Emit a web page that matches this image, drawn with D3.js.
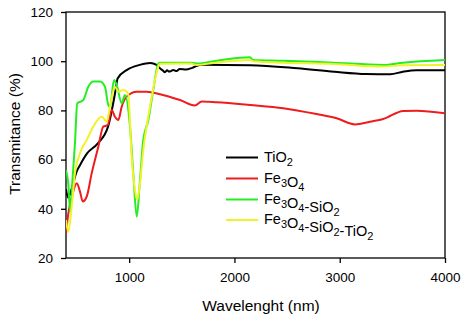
<!DOCTYPE html>
<html><head><meta charset="utf-8">
<script src="https://d3js.org/d3.v7.min.js"></script>
<style>body{margin:0;background:#fff;} text{font-family:"Liberation Sans",Arial,sans-serif;fill:#000;}</style>
</head><body><svg id="c" width="474" height="332"></svg>
<script>
const xTicks = [1000, 2000, 3000, 4000];
const yTicks = [20, 40, 60, 80, 100, 120];
const seriesNames = ["TiO2", "Fe3O4", "Fe3O4-SiO2", "Fe3O4-SiO2-TiO2"];
const seriesColors = ["#000000", "#ee1c1c", "#22ee22", "#f2f22a"];
const tio2 = [[400,48],[420,44.5],[460,49],[500,55],[530,57.5],[600,62.5],[700,66.5],[800,73.5],[870,88],[890,93],[980,96.5],[1100,98.5],[1200,99.3],[1260,98.5],[1290,97.2],[1320,96.2],[1340,95.5],[1360,96.3],[1380,95.8],[1420,96.4],[1450,96.0],[1480,96.8],[1540,96.6],[1600,97.3],[1680,98.6],[2150,98.4],[2600,97.1],[2950,95.7],[3250,94.8],[3480,94.7],[3600,95.7],[3730,96.3],[4000,96.3]];
const fe3o4 = [[400,30],[422,38],[457,45],[502,50.4],[533,47],[559,43],[597,45],[644,54.4],[707,65.2],[754,73.4],[796,74],[834,80.2],[865,77.4],[897,76.1],[929,81.5],[977,85.6],[1072,87.6],[1166,87.6],[1293,86.6],[1483,84.2],[1625,82],[1689,83.6],[1831,83.3],[2148,82.2],[2464,80.9],[2781,78.5],[2971,76.8],[3145,74.3],[3287,75.4],[3414,76.5],[3604,79.8],[3731,79.9],[4000,78.8]];
const fe3o4sio2 = [[400,55.8],[422,50],[440,38.8],[462,52],[485,66.6],[507,82.9],[540,83.6],[564,84.2],[612,89.6],[659,91.7],[723,91.7],[770,89.6],[802,82.2],[818,81.5],[856,92.4],[882,90.3],[929,82.9],[960,86.3],[1008,73.4],[1039,54.4],[1072,36.8],[1103,51.7],[1134,68],[1182,76.1],[1229,88.3],[1277,99.1],[1293,99.4],[1578,99.4],[1641,99.1],[1831,100.2],[2148,101.6],[2176,100.5],[2464,100.2],[2936,99.4],[3414,98.5],[3601,99.4],[4000,100.5]];
const fe3o4sio2tio2 = [[400,35.4],[422,30.7],[454,40.9],[485,54.4],[533,62.6],[597,68],[659,73.4],[739,77.4],[770,76.1],[787,75.4],[818,81.5],[865,89.6],[897,87.6],[944,88.3],[977,87.6],[992,86.3],[1024,61.2],[1055,47.6],[1077,43.6],[1103,50.4],[1134,63.9],[1198,81.5],[1245,92.4],[1277,97.8],[1293,99],[1578,99.1],[1641,98.5],[1831,99.4],[2148,100.5],[2176,100],[2464,99.4],[2936,98.9],[3414,97.8],[3601,98.4],[4000,98.5]];
const allSeries = [tio2, fe3o4, fe3o4sio2, fe3o4sio2tio2];

const svg = d3.select("#c");
const L = 66, R = 445, T = 12, B = 258;
const x = d3.scaleLinear().domain([400, 4000]).range([L, R]);
const y = d3.scaleLinear().domain([20, 120]).range([B, T]);

svg.append("rect").attr("x", L).attr("y", T).attr("width", R - L).attr("height", B - T)
  .attr("fill", "none").attr("stroke", "#000").attr("stroke-width", 1.3);

const xa = svg.append("g").attr("transform", `translate(0,${B})`)
  .call(d3.axisBottom(x).tickValues(xTicks).tickSize(5).tickPadding(9).tickFormat(d3.format("d")));
const ya = svg.append("g").attr("transform", `translate(${L},0)`)
  .call(d3.axisLeft(y).tickValues(yTicks).tickSize(5).tickPadding(8));
[xa, ya].forEach(a => {
  a.select(".domain").remove();
  a.selectAll("line").attr("stroke", "#000").attr("stroke-width", 1.3);
  a.selectAll("text").style("font-size", "13.5px").style("font-family", '"Liberation Sans",Arial,sans-serif');
});

const line = d3.line().x(d => x(d[0])).y(d => y(d[1])).curve(d3.curveMonotoneX);
svg.append("clipPath").attr("id", "pc").append("rect")
  .attr("x", L).attr("y", T).attr("width", R - L).attr("height", B - T);
allSeries.forEach((s, i) => {
  svg.append("path").datum(s).attr("d", line)
    .attr("fill", "none").attr("stroke", seriesColors[i]).attr("stroke-width", 2)
    .attr("stroke-linejoin", "round").attr("clip-path", "url(#pc)");
});

svg.append("text").attr("x", 261).attr("y", 311).attr("text-anchor", "middle")
  .style("font-size", "15.5px").text("Wavelenght (nm)");
svg.append("text").attr("transform", `translate(20,134) rotate(-90)`)
  .attr("text-anchor", "middle").style("font-size", "15.5px").text("Transmitance (%)");

const legRows = [157.5, 178.5, 199.5, 220];
function addSub(t, s) {
  const parts = s.match(/\d+|[^\d]+/g);
  parts.forEach(p => {
    if (/^\d+$/.test(p)) {
      t.append("tspan").attr("dy", 4).style("font-size", "11px").text(p);
      t.append("tspan").attr("dy", -4).text("");
    } else {
      t.append("tspan").text(p);
    }
  });
}
seriesNames.forEach((n, i) => {
  const yy = legRows[i];
  svg.append("line").attr("x1", 226).attr("x2", 258).attr("y1", yy).attr("y2", yy)
    .attr("stroke", seriesColors[i]).attr("stroke-width", 2);
  const t = svg.append("text").attr("x", 264).attr("y", yy + 4).style("font-size", "14.5px");
  addSub(t, n);
});
</script></body></html>
